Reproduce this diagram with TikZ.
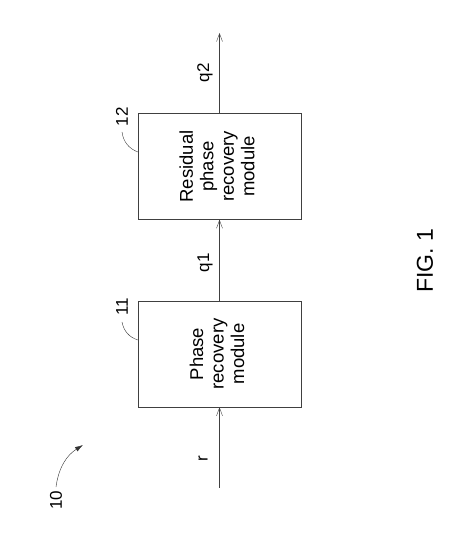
\documentclass[tikz,border=0pt]{standalone}
\usepackage{fontspec}
\setmainfont{Liberation Sans}
\usetikzlibrary{arrows.meta}
\tikzset{
    >={Straight Barb[length=8pt,width=6pt]},
    fig/.style={
        x=1pt,y=1pt,
        module/.append style={draw=black!75,thin,rectangle,minimum width=163pt,minimum height=106pt,inner sep=0pt,font=\fontsize{18.5}{20.5}\selectfont},
        sig/.append style={rotate=90,font=\fontsize{17}{19}\selectfont},
        ref/.append style={rotate=90,font=\fontsize{17}{19}\selectfont},
        wire/.append style={draw=black!75,thin,->},
        lead/.append style={draw=black!80,thin}
    }
}
\newcommand{\vtext}[1]{\rotatebox{90}{\begin{tabular}{@{}c@{}}#1\end{tabular}}}

\begin{document}
\begin{tikzpicture}[fig]
    \useasboundingbox (0,0) rectangle (474,545);
    \node[module] (pr) at (219.5, 191) {\vtext{Phase\\recovery\\module}};
    \node[module] (rpr) at (219.5, 378.5) {\vtext{Residual\\phase\\recovery\\module}};
    \coordinate (in) at (219.5, 57);
    \coordinate (out) at (219.5, 512);
    \draw[wire] (in) -- (pr);
    \draw[wire] (pr) -- (rpr);
    \draw[wire] (rpr) -- (out);
    \node[sig] (r) at (203, 86) {r};
    \node[sig] (q1) at (205, 282) {q1};
    \node[sig] (q2) at (205, 472) {q2};
    % reference numerals
    \node[ref] (n11) at (122, 238) {11};
    \draw[lead] (122, 223) to[bend right=30] (pr.west |- 0, 205);
    \node[ref] (n12) at (122, 428) {12};
    \draw[lead] (122, 413) to[bend right=30] (rpr.west |- 0, 393);
    \node[ref] (n10) at (56, 45) {10};
    \draw[lead,-{Latex[length=8pt,width=5pt]}] (n10.east) to[bend left=25] (83, 100);
    \node[rotate=90,font=\fontsize{23}{26}\selectfont] (fig1) at (425, 284) {FIG. 1};
\end{tikzpicture}
\end{document}
